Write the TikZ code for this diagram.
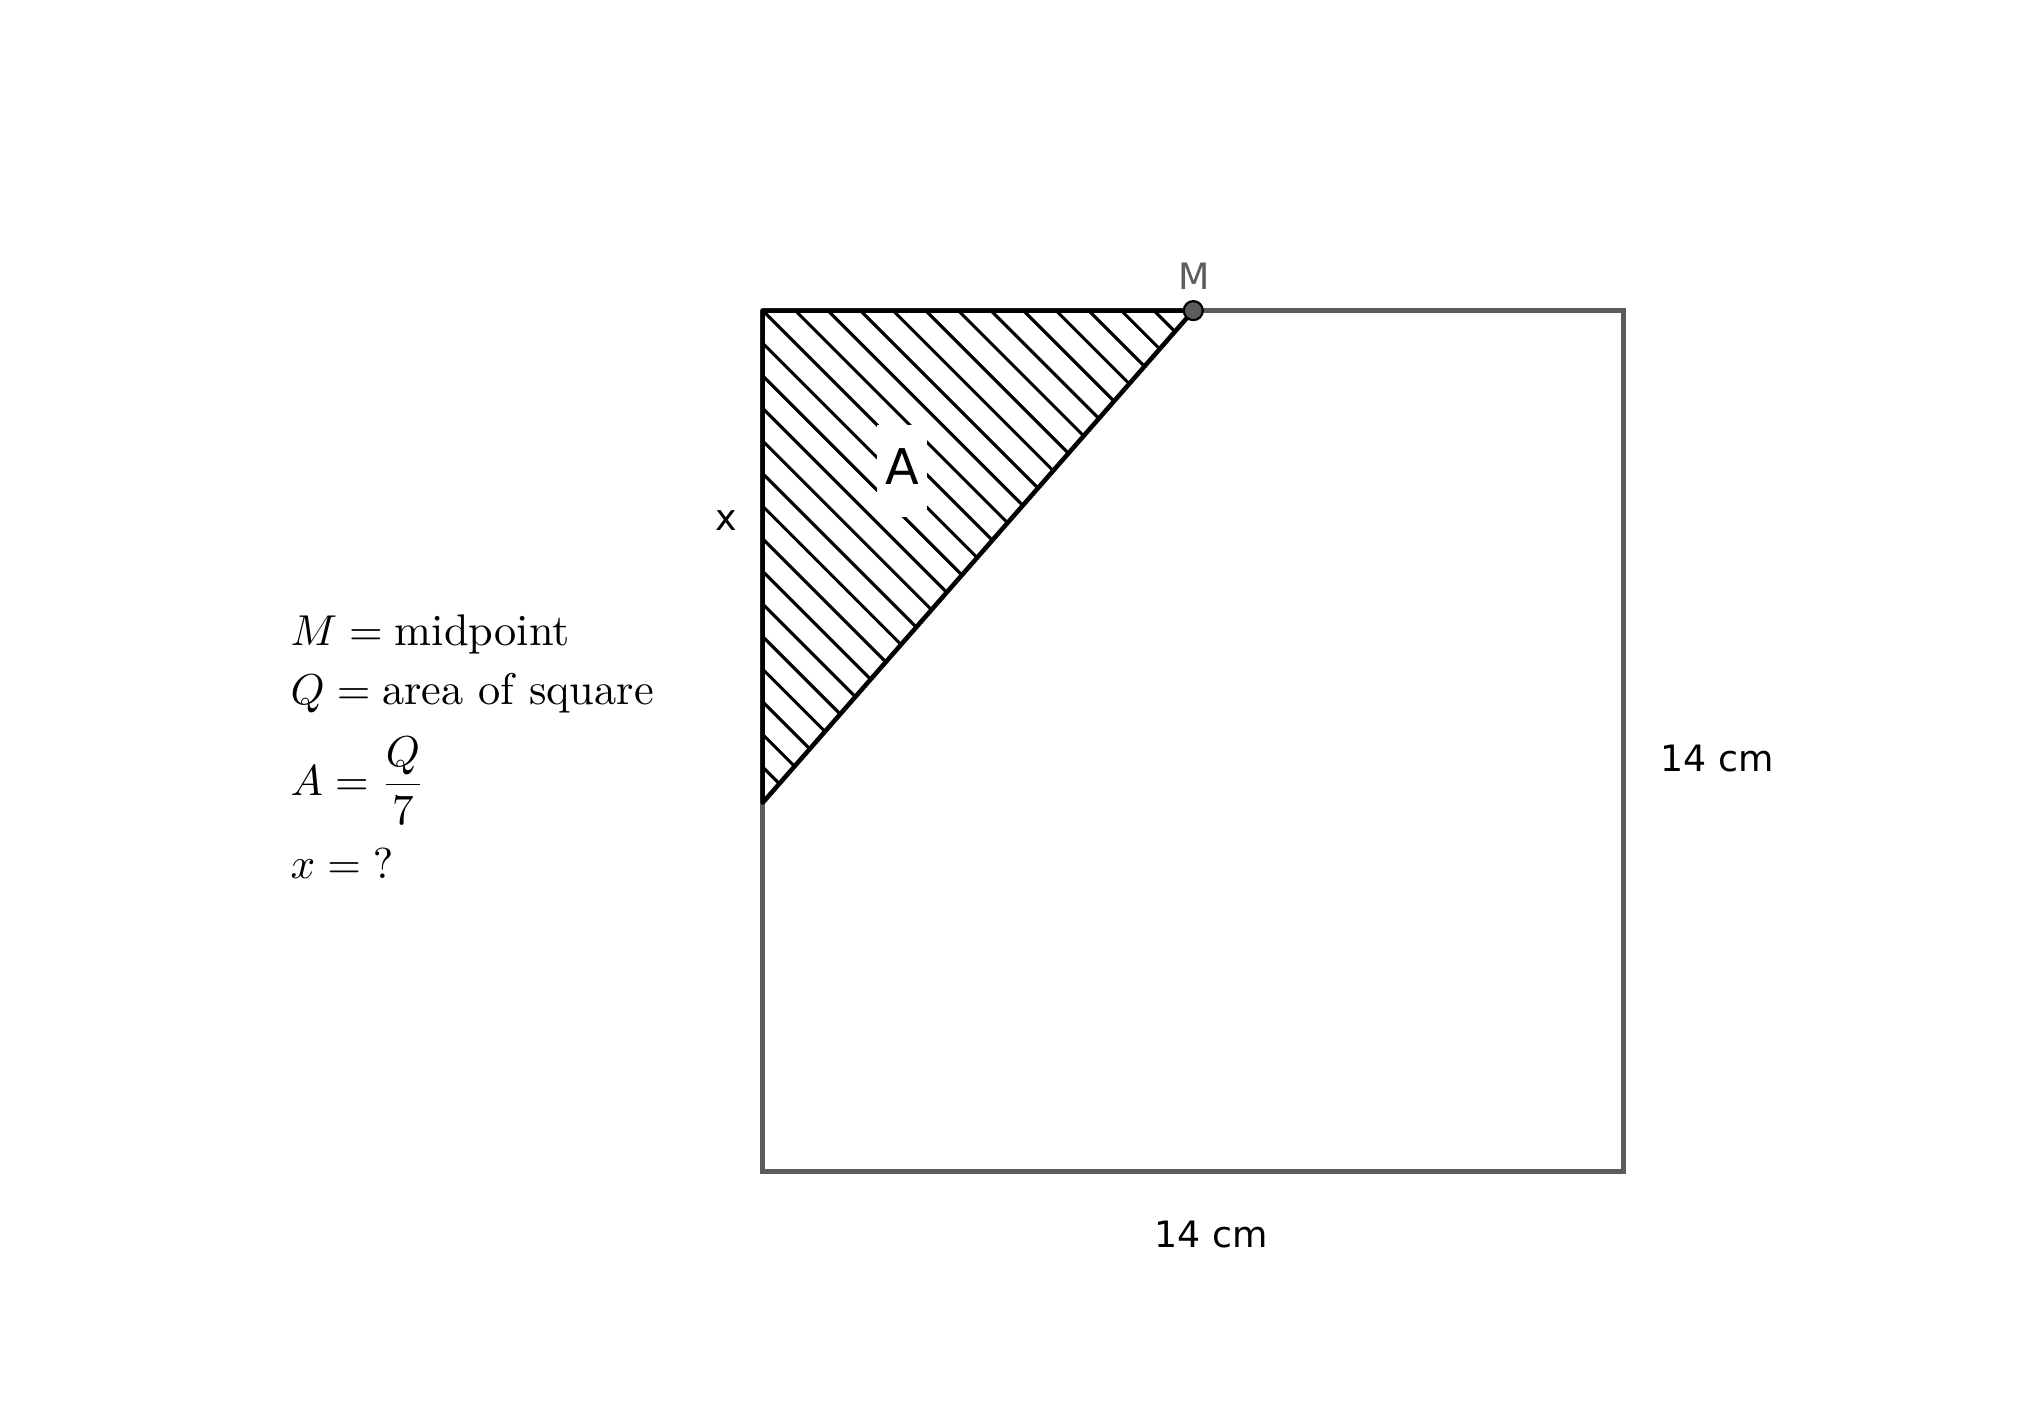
\documentclass[tikz,border=0pt]{standalone}
\usepackage{amsmath}
\usepackage{fontspec}
\newfontfamily\labelfont{DejaVu Sans}
\definecolor{grey}{cmyk}{0,0,0,0.73}

\begin{document}
\begin{tikzpicture}[x=0.5cm,y=0.5cm]
    \tikzset{%
      dot/.style={circle, draw=black, fill=grey, line width=0.5pt,
        inner sep=0pt, minimum width=4.4pt},
      side/.style={grey, line width=1.15pt, line cap=round},
      edge/.style={black, line width=1.05pt, line join=round},
      hatch/.style={black, line width=0.72pt},
      lbl/.style={font=\labelfont\fontsize{8.4}{10}\selectfont, inner sep=0pt},
      txt/.style={anchor=base west, inner sep=0pt,
        font=\fontsize{10.25}{12}\selectfont},
    }
    \useasboundingbox (-12.40,-4.15) rectangle (20.83,19.05);

    \coordinate (B0) at (0,0);
    \coordinate (B1) at (14,0);
    \coordinate (T1) at (14,14);
    \coordinate (T0) at (0,14);
    \coordinate (M0) at (7,14);
    \coordinate (X0) at (0,6);
    \draw [side] (T0) -- (B0) -- (B1) -- (T1) -- (T0);

    \begin{scope}
      \clip (T0) -- (M0) -- (X0) -- cycle;
      \foreach \k in {-16,...,14}
        \draw [hatch] (\k*0.53-3,17) -- (\k*0.53+12,2);
    \end{scope}
    \node[fill=white, inner sep=0pt, minimum width=11.6pt, minimum height=21.3pt,
      text depth=2.3pt, font=\labelfont\fontsize{11.4}{13}\selectfont]
      (A) at (2.27,11.39) {A};

    \draw [edge] (T0) -- (M0) -- (X0) -- cycle;
    \node[dot] (M) at (M0) {};
    \node[lbl, grey] (Mlbl) at (7.02,14.56) {M};
    \node[lbl] (xlbl) at (-0.59,10.58) {x};
    \node[lbl] (side1) at (15.52,6.72) {14 cm};
    \node[lbl] (side2) at (7.29,-1.02) {14 cm};

    \node[txt] (t1) at (-7.69,8.56) {$M = \text{midpoint}$};
    \node[txt] (t2) at (-7.69,7.59) {$Q = \text{area of square}$};
    \node[txt] (t3) at (-7.69,6.12) {$A = \dfrac{Q}{7}$};
    \node[txt] (t4) at (-7.69,4.77) {$x = {?}$};
  \end{tikzpicture}
\end{document}
